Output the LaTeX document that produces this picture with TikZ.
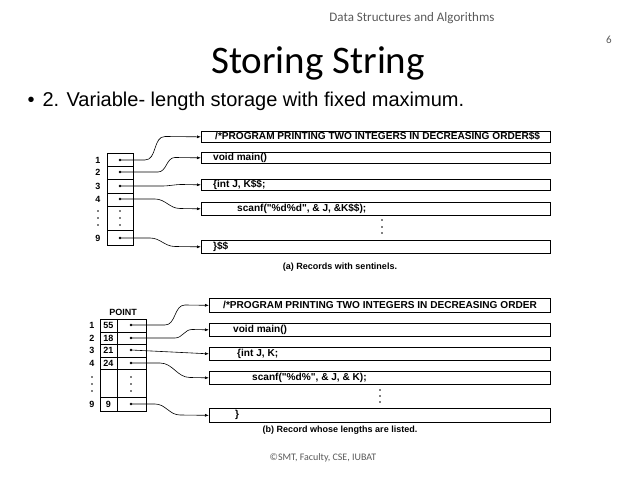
\documentclass[tikz,border=0pt]{standalone}
\usepackage{fontspec}
\setmainfont{Carlito}
\newfontfamily\arial{Liberation Sans}
\usetikzlibrary{calc,arrows.meta}
\begin{document}
\begin{tikzpicture}[x=1pt,y=-1pt,
  rec/.style={draw,line width=0.7pt,inner sep=0pt,anchor=north west},
  rtxt/.style={anchor=west,inner sep=0pt,font=\arial\bfseries\fontsize{10.1}{10}\selectfont},
  lbl/.style={inner sep=0pt,font=\arial\bfseries\fontsize{9}{10}\selectfont},
  dot/.style={circle,fill,inner sep=0pt,minimum size=2.6pt},
  arr/.style={line width=0.6pt,-{Latex[length=4pt,width=3pt]}},
  cell/.style={draw,line width=0.7pt}]
\useasboundingbox (0,0) rectangle (638,478);
\node[text=gray!70!black,font=\fontsize{13}{14}\selectfont] (hdr) at (412,18) {Data Structures and Algorithms};
\node[text=gray!70!black,font=\fontsize{11}{12}\selectfont] (pg) at (609,40) {6};
\node[font=\fontsize{39}{40}\selectfont] (title) at (318,63) {Storing String};
\node[anchor=west,font=\arial\fontsize{20}{21}\selectfont] (bul) at (24,101) {•\hspace{8pt}2. Variable- length storage with fixed maximum.};
\node[text=gray!70!black,font=\fontsize{10}{11}\selectfont] (ftr) at (323,458) {©SMT, Faculty, CSE, IUBAT};
% ---- top
\node[rec,minimum width=349pt,minimum height=11pt] (a1) at (201,131) {};
\node[rec,minimum width=349pt,minimum height=11pt] (a2) at (201,152) {};
\node[rec,minimum width=349pt,minimum height=11pt] (a3) at (201,179) {};
\node[rec,minimum width=349pt,minimum height=13pt] (a4) at (201,202) {};
\node[rec,minimum width=349pt,minimum height=13pt] (a5) at (201,240) {};
\node[rtxt] (ta1) at (215,136.5) {/*PROGRAM PRINTING TWO INTEGERS IN DECREASING ORDER\$\$};
\node[rtxt] (ta2) at (213,157.5) {void main()};
\node[rtxt] (ta3) at (213,184.5) {\{int J, K\$\$;};
\node[rtxt] (ta4) at (237,208.5) {scanf("\%d\%d", \& J, \&K\$\$);};
\node[rtxt] (ta5) at (213,246.5) {\}\$\$};
\foreach \y in {220,227,233} \fill (382,\y) circle (0.9pt);
\draw[cell] (107,153) rectangle (133,245);
\foreach \y in {166,179,193,206,230} \draw[cell] (107,\y) -- (133,\y);
\node[dot] (p1) at (120,160) {};
\node[dot] (p2) at (120,172) {};
\node[dot] (p3) at (120,186) {};
\node[dot] (p4) at (120,199) {};
\node[dot] (p9) at (120,238) {};
\foreach \y in {211,218,225} {\fill (120,\y) circle (0.8pt); \fill (98,\y) circle (0.8pt);}
\node[lbl] (n1) at (98,160) {1};
\node[lbl] (n2) at (98,172) {2};
\node[lbl] (n3) at (98,186) {3};
\node[lbl] (n4) at (98,199) {4};
\node[lbl] (n9) at (98,238) {9};
\draw[arr] (p1.center) -- (145,160) to[out=0,in=180] (165,136.5) -- (a1.west);
\draw[arr] (p2.center) -- (158,172) to[out=0,in=180] (175,157.5) -- (a2.west);
\draw[arr] (p3.center) -- (162,186) to[out=0,in=180] (182,184.5) -- (a3.west);
\draw[arr] (p4.center) -- (155,199) to[out=0,in=180] (180,208.5) -- (a4.west);
\draw[arr] (p9.center) -- (150,238) to[out=0,in=180] (175,246.5) -- (a5.west);
\node[lbl] (capa) at (340,267) {(a) Records with sentinels.};
% ---- bottom
\node[rec,minimum width=341pt,minimum height=14pt] (b1) at (209,298) {};
\node[rec,minimum width=341pt,minimum height=13pt] (b2) at (209,323) {};
\node[rec,minimum width=341pt,minimum height=13pt] (b3) at (209,347) {};
\node[rec,minimum width=341pt,minimum height=13pt] (b4) at (209,371) {};
\node[rec,minimum width=341pt,minimum height=14pt] (b5) at (209,408) {};
\node[rtxt] (tb1) at (223,305) {/*PROGRAM PRINTING TWO INTEGERS IN DECREASING ORDER};
\node[rtxt] (tb2) at (233,329.5) {void main()};
\node[rtxt] (tb3) at (237,353.5) {\{int J, K;};
\node[rtxt] (tb4) at (252,377.5) {scanf("\%d\%", \& J, \& K);};
\node[rtxt] (tb5) at (235,415) {\}};
\foreach \y in {390,396,402} \fill (380,\y) circle (0.9pt);
\node[lbl] (pt) at (123,312) {POINT};
\draw[cell] (100,319) rectangle (146,411);
\draw[cell] (117,319) -- (117,411);
\foreach \y in {332,344,357,369,397} \draw[cell] (100,\y) -- (146,\y);
\node[dot] (q1) at (131,325) {};
\node[dot] (q2) at (131,338) {};
\node[dot] (q3) at (131,350) {};
\node[dot] (q4) at (131,363) {};
\node[dot] (q9) at (131,404) {};
\foreach \y in {377,384,391} {\fill (131,\y) circle (0.8pt); \fill (92,\y) circle (0.8pt);}
\node[lbl] (m1) at (92,325) {1};
\node[lbl] (m2) at (92,338) {2};
\node[lbl] (m3) at (92,350) {3};
\node[lbl] (m4) at (92,363) {4};
\node[lbl] (m9) at (92,404) {9};
\node[lbl] (v1) at (108.5,325) {55};
\node[lbl] (v2) at (108.5,338) {18};
\node[lbl] (v3) at (108.5,350) {21};
\node[lbl] (v4) at (108.5,363) {24};
\node[lbl] (v9) at (108.5,404) {9};
\draw[arr] (q1.center) -- (165,325) to[out=0,in=180] (185,305) -- (b1.west);
\draw[arr] (q2.center) -- (175,338) to[out=0,in=180] (192,329.5) -- (b2.west);
\draw[arr] (q3.center) -- (b3.west);
\draw[arr] (q4.center) -- (160,363) to[out=0,in=180] (190,377.5) -- (b4.west);
\draw[arr] (q9.center) -- (155,404) to[out=0,in=180] (180,415) -- (b5.west);
\node[lbl] (capb) at (340,430) {(b) Record whose lengths are listed.};
\end{tikzpicture}
\end{document}
